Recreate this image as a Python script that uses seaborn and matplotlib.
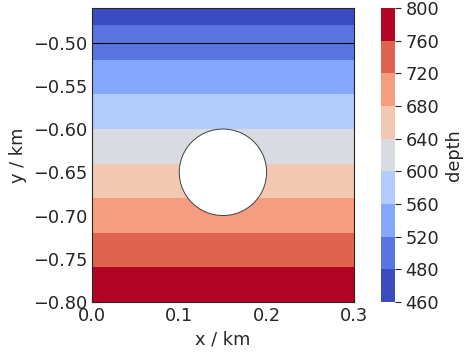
import numpy as np
import matplotlib
matplotlib.use("Agg")
import matplotlib.pyplot as plt
import seaborn as sns
from matplotlib.patches import Circle

sns.set_style("ticks")
plt.rcParams['font.family'] = ['DejaVu Sans']

# Data
x_km = [0.0, 0.3]
y_km = [-0.80, -0.46]
depth_at_y = [800, 460]          # depth at the bottom / top edge
levels = [460, 480, 520, 560, 600, 640, 680, 720, 760, 800]
contour_line_level = [500]
hole_center = (0.15, -0.65)
hole_radius = 0.05

X, Y = np.meshgrid(x_km, y_km)
Z = np.array([[depth_at_y[0], depth_at_y[0]], [depth_at_y[1], depth_at_y[1]]])

fig = plt.figure(figsize=(4.74, 3.53), dpi=100)
ax = fig.add_axes([0.194, 0.1445, 0.5527, 0.8329])
cax = fig.add_axes([0.804, 0.1445, 0.0295, 0.8329])

cmap = sns.color_palette("coolwarm", as_cmap=True)
layer_mid = [(a + b) / 2 for a, b in zip(levels[:-1], levels[1:])]
cf = ax.contourf(X, Y, Z, levels=levels, cmap=cmap,
                 vmin=layer_mid[0], vmax=layer_mid[-1])
ax.contour(X, Y, Z, levels=contour_line_level, colors='black', linewidths=0.8)
ax.add_patch(Circle(hole_center, hole_radius, facecolor='white', edgecolor='#404040',
                    linewidth=0.7, zorder=5))

ax.set_xlim(0, 0.3)
ax.set_ylim(-0.8, -0.46)
ax.set_xticks([0.0, 0.1, 0.2, 0.3])
ax.set_yticks([-0.80, -0.75, -0.70, -0.65, -0.60, -0.55, -0.50])
ax.set_yticklabels(['−0.80', '−0.75', '−0.70', '−0.65', '−0.60', '−0.55', '−0.50'])
ax.set_xticklabels(['0.0', '0.1', '0.2', '0.3'])
ax.tick_params(direction='in', labelsize=12.8, length=4, color='#444444')
ax.set_xlabel('x / km', fontsize=12.8, labelpad=4)
ax.set_ylabel('y / km', fontsize=12.8, labelpad=4)

cb = fig.colorbar(cf, cax=cax)
cb.set_ticks(levels)
cb.ax.tick_params(labelsize=12.8, length=4, direction='out')
cb.outline.set_visible(False)
cb.set_label('depth', fontsize=12.8)

fig.savefig('out.png', dpi=100)
